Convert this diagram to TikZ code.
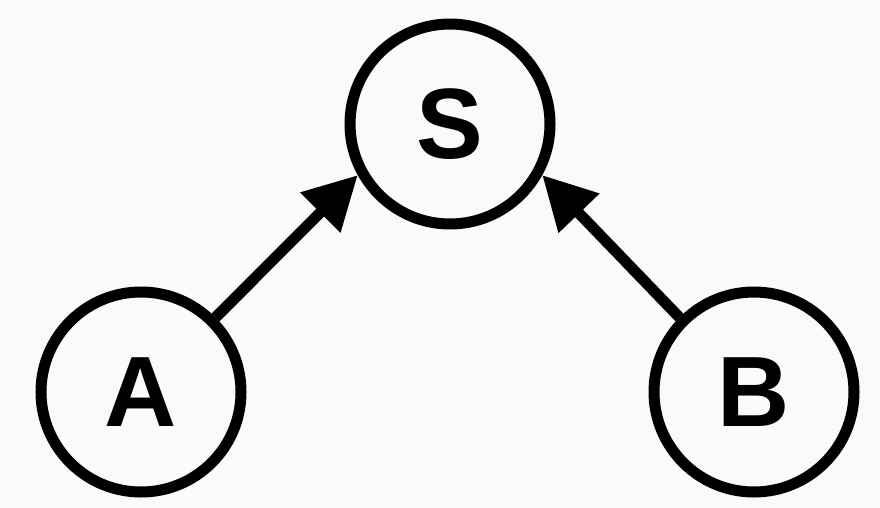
\documentclass[tikz,border=0pt]{standalone}
\usepackage{fontspec}
\setmainfont{Liberation Sans}
\usetikzlibrary{arrows.meta}
\definecolor{bgcol}{RGB}{250,250,250}
\begin{document}
\begin{tikzpicture}[x=1pt,y=-1pt,
    var/.style={draw,circle,line width=11pt,minimum size=200pt,inner sep=0pt,font=\fontsize{100}{100}\selectfont\bfseries},
    edge/.style={line width=11pt,-{Triangle[length=53pt,width=54pt]}}]
\fill[bgcol] (0,0) rectangle (880,508);
\useasboundingbox (0,0) rectangle (880,508);
%    nodes
\node[var] (S) at (450,124) {S};
\node[var] (A) at (141,392) {A};
\node[var] (B) at (754,392) {B};
%    edges
\draw[edge] (A.45)--(S.209);
\draw[edge] (B.135)--(S.331);
\end{tikzpicture}
\end{document}
